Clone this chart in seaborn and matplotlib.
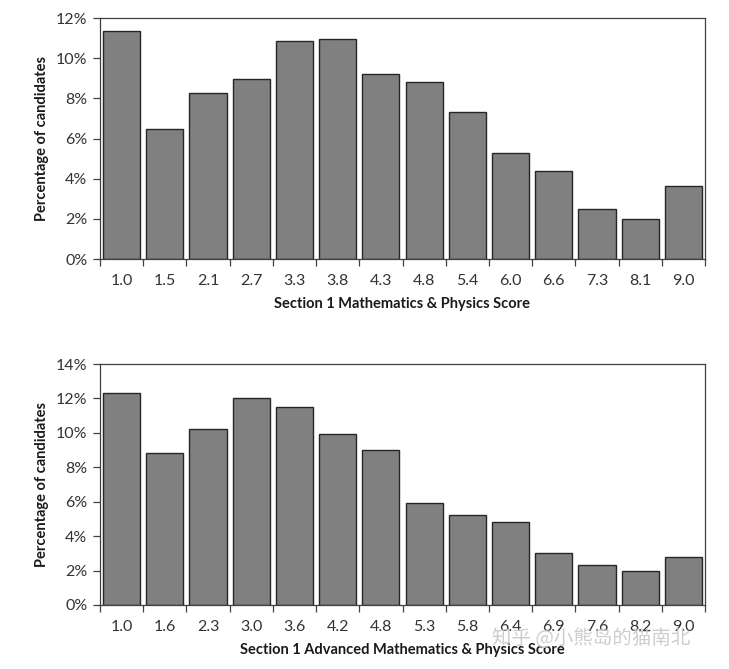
import matplotlib
matplotlib.use("Agg")
import matplotlib.pyplot as plt
import seaborn as sns
import pandas as pd
from matplotlib.ticker import FuncFormatter, FixedLocator

# ---- data ----
scores_math = ["1.0", "1.5", "2.1", "2.7", "3.3", "3.8", "4.3", "4.8", "5.4", "6.0", "6.6", "7.3", "8.1", "9.0"]
pct_math = [11.35, 6.45, 8.25, 8.95, 10.85, 10.95, 9.2, 8.8, 7.3, 5.3, 4.4, 2.5, 2.0, 3.65]

scores_adv = ["1.0", "1.6", "2.3", "3.0", "3.6", "4.2", "4.8", "5.3", "5.8", "6.4", "6.9", "7.6", "8.2", "9.0"]
pct_adv = [12.3, 8.85, 10.25, 12.0, 11.5, 9.95, 9.0, 5.95, 5.2, 4.8, 3.0, 2.3, 1.95, 2.8]

xlabel_math = "Section 1 Mathematics & Physics Score"
xlabel_adv = "Section 1 Advanced Mathematics & Physics Score"
ylabel = "Percentage of candidates"
watermark = "知乎 @小熊岛的猫南北"

sns.set_theme(style="white")
plt.rcParams["font.family"] = ["Lato", "DejaVu Sans"]

fig = plt.figure(figsize=(7.29, 6.69), dpi=100)
ax1 = fig.add_axes([100 / 729, 1 - 259 / 669, 605 / 729, 241 / 669])
ax2 = fig.add_axes([100 / 729, 1 - 605 / 669, 605 / 729, 241 / 669])

panels = [
    (ax1, scores_math, pct_math, xlabel_math, 12),
    (ax2, scores_adv, pct_adv, xlabel_adv, 14),
]

for ax, cats, vals, xl, ymax in panels:
    df = pd.DataFrame({"score": cats, "pct": vals})
    sns.barplot(data=df, x="score", y="pct", order=cats, color="#808080",
                saturation=1, width=0.86, edgecolor="#262626", linewidth=1.0, ax=ax)
    ax.set_xlim(-0.5, len(cats) - 0.5)
    ax.set_ylim(0, ymax)
    ax.set_yticks(range(0, ymax + 1, 2))
    ax.yaxis.set_major_formatter(FuncFormatter(lambda v, p: f"{v:.0f}%"))
    ax.xaxis.set_minor_locator(FixedLocator([i - 0.5 for i in range(len(cats) + 1)]))
    ax.tick_params(axis="x", which="major", length=0, pad=11, labelsize=11.5, labelcolor="#333333")
    ax.tick_params(axis="x", which="minor", length=5, width=0.9, direction="out", bottom=True, color="#404040")
    ax.tick_params(axis="y", which="major", length=5, width=0.9, direction="out", left=True,
                   labelsize=11.5, labelcolor="#333333", color="#404040", pad=4)
    for s in ax.spines.values():
        s.set_visible(True)
        s.set_color("#404040")
        s.set_linewidth(0.9)
    ax.set_xlabel(xl, fontsize=10.5, fontweight="bold", color="#1a1a1a", labelpad=6)
    ax.set_ylabel(ylabel, fontsize=10.5, fontweight="bold", color="#1a1a1a", labelpad=5)

fig.text(492 / 729, 1 - 638 / 669, watermark, fontsize=14,
         family=["Noto Sans CJK SC", "DejaVu Sans"], color="#c8c8c8",
         ha="left", va="center", alpha=0.9)

fig.savefig("out.png", dpi=100, facecolor="white")
